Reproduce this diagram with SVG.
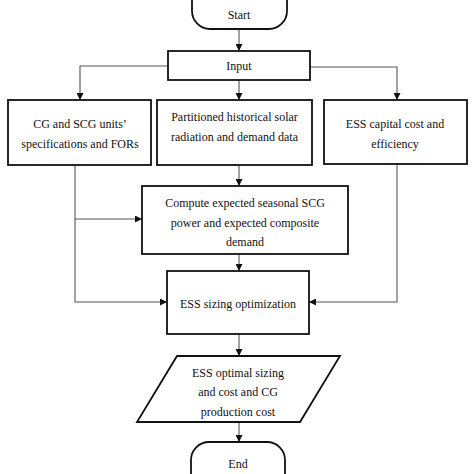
<svg xmlns="http://www.w3.org/2000/svg" width="474" height="474" viewBox="0 0 474 474">
<style>
.box{fill:#fff;stroke:#111;stroke-width:1.8}
.c{fill:none;stroke:#555;stroke-width:1.1}
text{font-family:"Liberation Serif","Times New Roman",serif;font-size:12px;fill:#111;text-anchor:middle}
</style>
<defs>
<marker id="a" viewBox="0 0 10 10" refX="10" refY="5" markerWidth="7" markerHeight="7" orient="auto" markerUnits="userSpaceOnUse">
<path d="M0,0 L10,5 L0,10 z" fill="#111"/>
</marker>
</defs>
<rect width="474" height="474" fill="#fff"/>
<g id="connectors">
<line class="c" x1="239" y1="29" x2="239" y2="51" marker-end="url(#a)"/>
<polyline class="c" points="168,66 80,66 80,100" marker-end="url(#a)"/>
<line class="c" x1="239" y1="80" x2="239" y2="100" marker-end="url(#a)"/>
<polyline class="c" points="310,67 397,67 397,100" marker-end="url(#a)"/>
<line class="c" x1="239" y1="165" x2="239" y2="186" marker-end="url(#a)"/>
<polyline class="c" points="75,165 75,219 142,219" marker-end="url(#a)"/>
<polyline class="c" points="75,219 75,302 167,302" marker-end="url(#a)"/>
<polyline class="c" points="397,164 397,302 309,302" marker-end="url(#a)"/>
<line class="c" x1="239" y1="254" x2="239" y2="271" marker-end="url(#a)"/>
<line class="c" x1="239" y1="334" x2="239" y2="356" marker-end="url(#a)"/>
<line class="c" x1="239" y1="422" x2="239" y2="442" marker-end="url(#a)"/>
</g>
<g id="start">
<rect class="box" x="192" y="-25" width="95" height="54" rx="18"/>
<text x="239" y="19">Start</text>
</g>
<g id="input">
<rect class="box" x="168" y="51" width="142" height="29"/>
<text x="239" y="70">Input</text>
</g>
<g id="cg">
<rect class="box" x="8" y="100" width="143" height="65"/>
<text x="80" y="128">CG and SCG units’</text>
<text x="80" y="148">specifications and FORs</text>
</g>
<g id="partitioned">
<rect class="box" x="157" y="100" width="155" height="65"/>
<text x="234.5" y="121">Partitioned historical solar</text>
<text x="234.5" y="141">radiation and demand data</text>
</g>
<g id="esscost">
<rect class="box" x="324" y="100" width="143" height="64"/>
<text x="395" y="128">ESS  capital cost and</text>
<text x="395" y="148">efficiency</text>
</g>
<g id="compute">
<rect class="box" x="142" y="186" width="206" height="68"/>
<text x="245" y="207">Compute expected seasonal SCG</text>
<text x="245" y="227">power and expected composite</text>
<text x="245" y="246">demand</text>
</g>
<g id="sizing">
<rect class="box" x="167" y="271" width="142" height="63"/>
<text x="238" y="308">ESS  sizing optimization</text>
</g>
<g id="output">
<polygon class="box" points="177,356 340,356 300,422 137,422"/>
<text x="238" y="377">ESS  optimal sizing</text>
<text x="238" y="396">and cost and CG</text>
<text x="238" y="416">production cost</text>
</g>
<g id="end">
<rect class="box" x="191" y="442" width="94" height="55" rx="18"/>
<text x="238" y="468">End</text>
</g>
</svg>
